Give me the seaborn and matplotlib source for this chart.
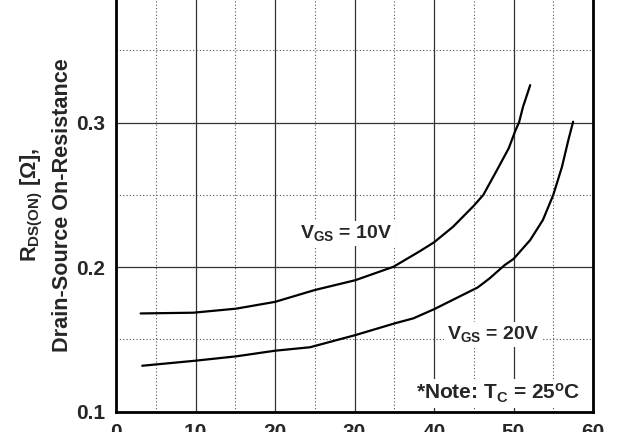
import numpy as np
import pandas as pd
import matplotlib
matplotlib.use("Agg")
import matplotlib.pyplot as plt
from matplotlib.ticker import MultipleLocator
import seaborn as sns

# curve values
id_10v = [3.1, 9.7, 15.1, 20.0, 25.0, 30.1, 33.2, 34.9, 38.2, 40.0, 42.4, 45.0, 46.2, 47.9, 49.4, 50.2, 50.7, 51.2, 52.1]
rds_10v = [0.168, 0.1685, 0.1713, 0.176, 0.1842, 0.191, 0.197, 0.2003, 0.211, 0.2172, 0.228, 0.2425, 0.25, 0.267, 0.2823, 0.294, 0.3003, 0.311, 0.326]
id_20v = [3.3, 10.0, 15.1, 20.0, 24.4, 30.1, 35.1, 37.4, 40.0, 45.5, 47.0, 48.9, 50.0, 52.1, 53.7, 55.0, 56.1, 56.9, 57.5]
rds_20v = [0.1318, 0.1353, 0.1383, 0.1422, 0.1446, 0.153, 0.1612, 0.1646, 0.1709, 0.186, 0.1923, 0.2015, 0.2057, 0.2188, 0.2327, 0.25, 0.2695, 0.288, 0.3007]
x_ticks = [0, 10, 20, 30, 40, 50, 60]
y_ticks = [0.1, 0.2, 0.3, 0.4]

df10 = pd.DataFrame({"Id": id_10v, "R": rds_10v})
df20 = pd.DataFrame({"Id": id_20v, "R": rds_20v})

sns.set_style("white")
plt.rcParams["font.family"] = ["Liberation Sans", "DejaVu Sans"]
plt.rcParams["font.weight"] = "bold"
plt.rcParams["mathtext.fontset"] = "custom"
plt.rcParams["mathtext.rm"] = "Liberation Sans:bold"
plt.rcParams["mathtext.it"] = "Liberation Sans:bold"
plt.rcParams["mathtext.bf"] = "Liberation Sans:bold"

W, H = 620, 432
fig = plt.figure(figsize=(6.2, 4.32), dpi=100)
# axes extends above the picture (chart is cropped at the top)
ax = fig.add_axes([116 / W, (H - 411.7) / H, 477 / W, 0.3 * 1445 / H])

sns.lineplot(data=df10, x="Id", y="R", sort=False, color="black", linewidth=1.6, ax=ax)
sns.lineplot(data=df20, x="Id", y="R", sort=False, color="black", linewidth=1.6, ax=ax)

ax.set_xlim(0, 60)
ax.set_ylim(0.1, 0.4)
ax.set_xticks(x_ticks)
ax.set_yticks(y_ticks)
ax.set_xticklabels([str(t) for t in x_ticks])
ax.set_yticklabels([f"{t:.1f}" for t in y_ticks])
ax.xaxis.set_minor_locator(MultipleLocator(5))
ax.yaxis.set_minor_locator(MultipleLocator(0.05))
ax.grid(which="major", color="#333333", linewidth=0.9, linestyle="-")
ax.grid(which="minor", color="#555555", linewidth=0.8, linestyle=(0, (1, 2)))
ax.set_axisbelow(True)
ax.tick_params(which="major", direction="in", length=4, width=1, labelsize=15, pad=8)
ax.tick_params(which="minor", length=0)
for s in ax.spines.values():
    s.set_color("black")
    s.set_linewidth(2)
ax.set_xlabel("")
ax.set_ylabel("")

box = dict(facecolor="white", edgecolor="none", pad=2)
ax.text(23.2, 0.2200, r"V$_{\mathbf{GS}}$ = 10V", fontsize=14, ha="left", va="baseline", bbox=box)
ax.text(41.6, 0.1501, r"V$_{\mathbf{GS}}$ = 20V", fontsize=14, ha="left", va="baseline", bbox=box)
ax.text(37.7, 0.1086, r"*Note: T$_{\mathbf{C}}$ = 25$^{\mathbf{o}}$C", fontsize=15, ha="left", va="baseline", bbox=box)

fig.text(46 / W, (H - 205) / H, "R$_{\\mathbf{DS(ON)}}$ [Ω],\nDrain-Source On-Resistance",
         rotation=90, ha="center", va="center", multialignment="center", fontsize=15.6, linespacing=1.4)

fig.savefig("out.png", dpi=100)
